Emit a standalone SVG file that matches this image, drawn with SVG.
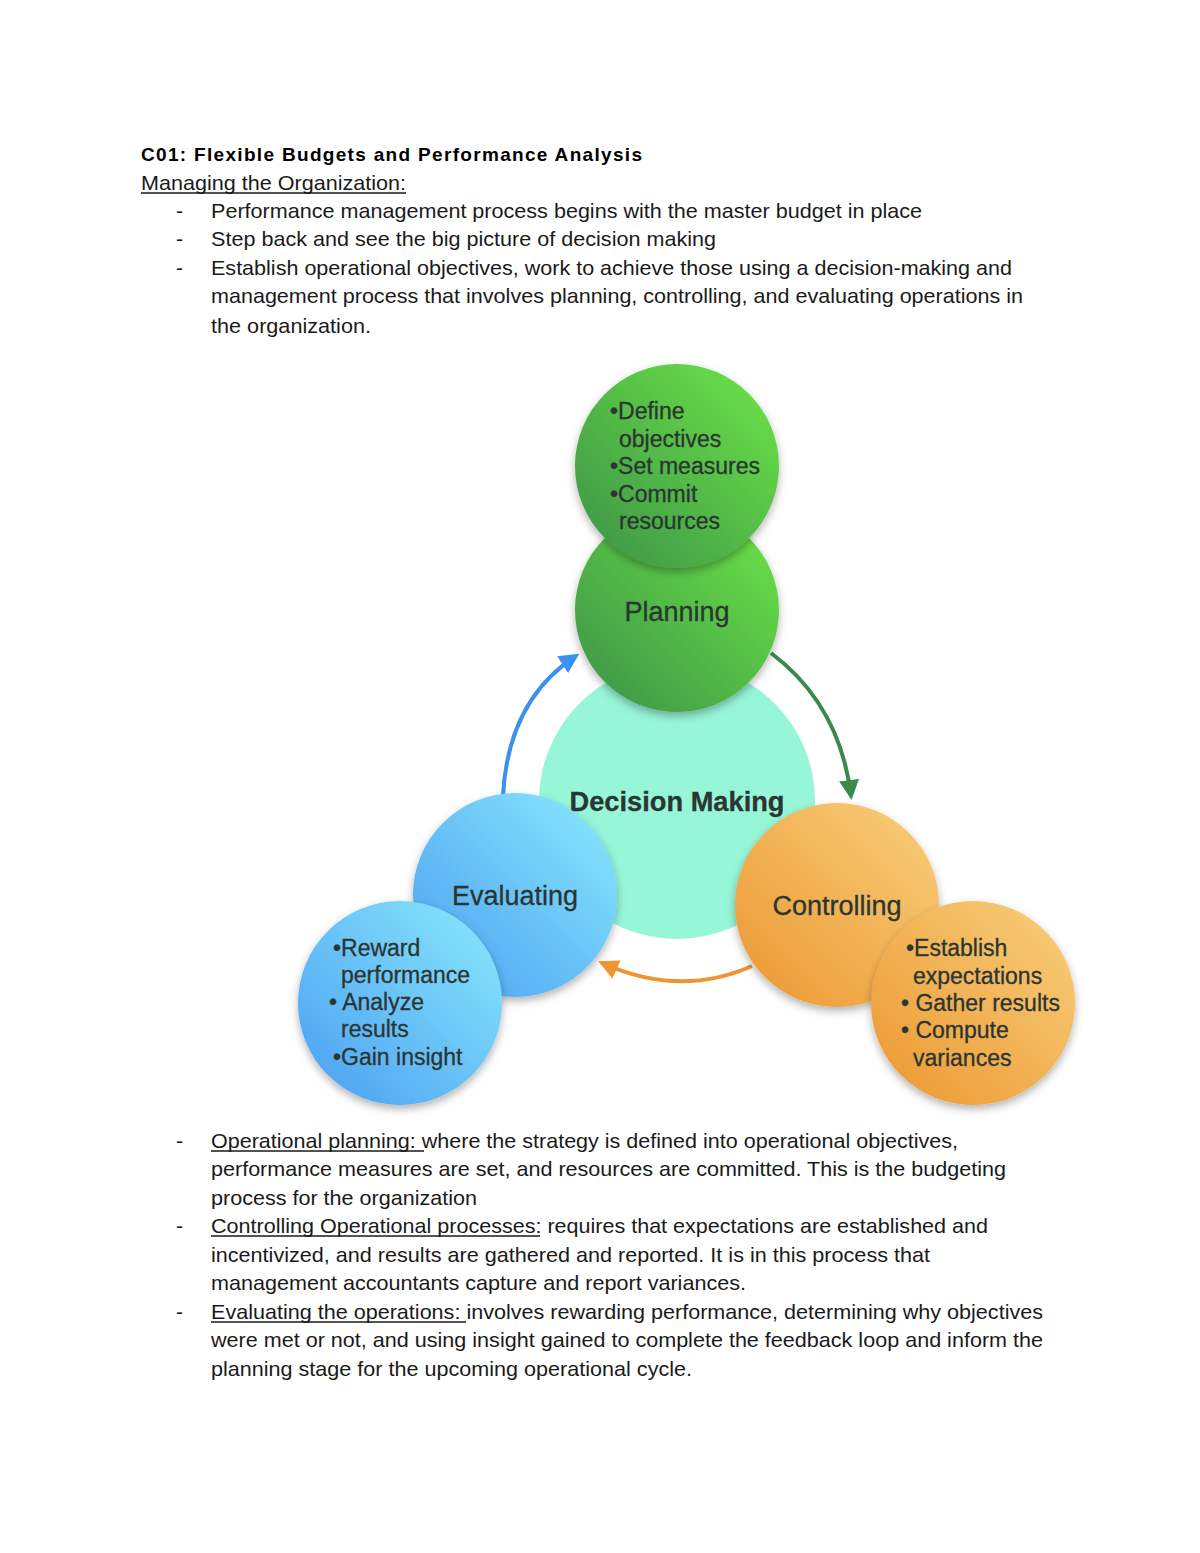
<svg xmlns="http://www.w3.org/2000/svg" width="1200" height="1553" viewBox="0 0 1200 1553">
<defs>
<style>
.body{font-family:"Liberation Sans",Arial,sans-serif;font-size:21px;fill:#1a1a1a}
.title{font-family:"Liberation Sans",Arial,sans-serif;font-size:19px;font-weight:bold;fill:#000}
.lbl{font-family:"Liberation Sans",Arial,sans-serif;font-size:27px;fill:#2b3532;stroke:#2b3532;stroke-width:0.3}
.blt{font-family:"Liberation Sans",Arial,sans-serif;font-size:23px;fill:#2b3532;stroke:#2b3532;stroke-width:0.3}
.ul{stroke:#1a1a1a;stroke-width:1.3}
</style>
<linearGradient id="gGreen" x1="0" y1="1" x2="1" y2="0">
<stop offset="0" stop-color="#3a9146"/><stop offset="1" stop-color="#6ee648"/>
</linearGradient>
<linearGradient id="gBlue" x1="0" y1="1" x2="1" y2="0">
<stop offset="0" stop-color="#4a9df2"/><stop offset="1" stop-color="#8aeafb"/>
</linearGradient>
<linearGradient id="gOrange" x1="0" y1="1" x2="1" y2="0">
<stop offset="0" stop-color="#ec9630"/><stop offset="1" stop-color="#f8d07c"/>
</linearGradient>
<filter id="sh" x="-20%" y="-20%" width="140%" height="145%">
<feDropShadow dx="0" dy="4" stdDeviation="4" flood-color="#000" flood-opacity="0.3"/>
</filter>
<marker id="mBlue" viewBox="0 0 10 10" refX="8" refY="5" markerWidth="5" markerHeight="5" orient="auto" markerUnits="strokeWidth"><path d="M0,0 L10,5 L0,10 Z" fill="#3d8ff0"/></marker>
<marker id="mGreen" viewBox="0 0 10 10" refX="8" refY="5" markerWidth="5" markerHeight="5" orient="auto" markerUnits="strokeWidth"><path d="M0,0 L10,5 L0,10 Z" fill="#3a8a4e"/></marker>
<marker id="mOrange" viewBox="0 0 10 10" refX="8" refY="5" markerWidth="5" markerHeight="5" orient="auto" markerUnits="strokeWidth"><path d="M0,0 L10,5 L0,10 Z" fill="#ef9430"/></marker>
</defs>
<rect width="1200" height="1553" fill="#fff"/>

<g id="header">
<text class="title" x="141" y="161" textLength="501" lengthAdjust="spacing">C01: Flexible Budgets and Performance Analysis</text>
<text class="body" x="141" y="190" textLength="265" lengthAdjust="spacingAndGlyphs">Managing the Organization:</text>
<line class="ul" x1="141" y1="193" x2="406" y2="193"/>
<text class="body" x="176" y="218">-</text>
<text class="body" x="211" y="218" textLength="711" lengthAdjust="spacingAndGlyphs">Performance management process begins with the master budget in place</text>
<text class="body" x="176" y="246">-</text>
<text class="body" x="211" y="246" textLength="505" lengthAdjust="spacingAndGlyphs">Step back and see the big picture of decision making</text>
<text class="body" x="176" y="275">-</text>
<text class="body" x="211" y="275" textLength="801" lengthAdjust="spacingAndGlyphs">Establish operational objectives, work to achieve those using a decision-making and</text>
<text class="body" x="211" y="303" textLength="812" lengthAdjust="spacingAndGlyphs">management process that involves planning, controlling, and evaluating operations in</text>
<text class="body" x="211" y="333" textLength="160" lengthAdjust="spacingAndGlyphs">the organization.</text>
</g>

<g id="connectors" fill="none" stroke-width="4">
<path d="M503,796 Q508,700 576,656" stroke="#3d8ff0" marker-end="url(#mBlue)"/>
<path d="M771,653 Q840,705 851,796" stroke="#3a8a4e" marker-end="url(#mGreen)"/>
<path d="M752,966 Q680,998 602,963" stroke="#ef9430" marker-end="url(#mOrange)"/>
</g>

<g id="decision-making">
<circle cx="677" cy="801" r="138" fill="#97f6d8"/>
<text class="lbl" x="677" y="811" text-anchor="middle" font-weight="bold" textLength="215" lengthAdjust="spacingAndGlyphs">Decision Making</text>
</g>

<g id="planning">
<circle cx="677" cy="610" r="102" fill="url(#gGreen)" filter="url(#sh)"/>
<text class="lbl" x="677" y="621" text-anchor="middle">Planning</text>
</g>

<g id="planning-details">
<circle cx="677" cy="466" r="102" fill="url(#gGreen)" filter="url(#sh)"/>
<text class="blt" x="610" y="419">•Define</text>
<text class="blt" x="619" y="447">objectives</text>
<text class="blt" x="610" y="474">•Set measures</text>
<text class="blt" x="610" y="502">•Commit</text>
<text class="blt" x="619" y="529">resources</text>
</g>

<g id="evaluating">
<circle cx="515" cy="895" r="102" fill="url(#gBlue)" filter="url(#sh)"/>
<text class="lbl" x="515" y="905" text-anchor="middle">Evaluating</text>
</g>

<g id="evaluating-details">
<circle cx="400" cy="1003" r="102" fill="url(#gBlue)" filter="url(#sh)"/>
<text class="blt" x="333" y="956">•Reward</text>
<text class="blt" x="341" y="983">performance</text>
<text class="blt" x="329" y="1010">• Analyze</text>
<text class="blt" x="341" y="1037">results</text>
<text class="blt" x="333" y="1065">•Gain insight</text>
</g>

<g id="controlling">
<circle cx="837" cy="905" r="102" fill="url(#gOrange)" filter="url(#sh)"/>
<text class="lbl" x="837" y="915" text-anchor="middle">Controlling</text>
</g>

<g id="controlling-details">
<circle cx="973" cy="1003" r="102" fill="url(#gOrange)" filter="url(#sh)"/>
<text class="blt" x="906" y="956">•Establish</text>
<text class="blt" x="913" y="984">expectations</text>
<text class="blt" x="901" y="1011">• Gather results</text>
<text class="blt" x="901" y="1038">• Compute</text>
<text class="blt" x="913" y="1066">variances</text>
</g>

<g id="footer">
<text class="body" x="176" y="1148">-</text>
<text class="body" x="211" y="1148" textLength="747" lengthAdjust="spacingAndGlyphs">Operational planning: where the strategy is defined into operational objectives,</text>
<line class="ul" x1="211" y1="1151" x2="424" y2="1151"/>
<text class="body" x="211" y="1176" textLength="795" lengthAdjust="spacingAndGlyphs">performance measures are set, and resources are committed. This is the budgeting</text>
<text class="body" x="211" y="1205" textLength="266" lengthAdjust="spacingAndGlyphs">process for the organization</text>
<text class="body" x="176" y="1233">-</text>
<text class="body" x="211" y="1233" textLength="777" lengthAdjust="spacingAndGlyphs">Controlling Operational processes: requires that expectations are established and</text>
<line class="ul" x1="211" y1="1236" x2="540" y2="1236"/>
<text class="body" x="211" y="1262" textLength="719" lengthAdjust="spacingAndGlyphs">incentivized, and results are gathered and reported. It is in this process that</text>
<text class="body" x="211" y="1290" textLength="535" lengthAdjust="spacingAndGlyphs">management accountants capture and report variances.</text>
<text class="body" x="176" y="1319">-</text>
<text class="body" x="211" y="1319" textLength="832" lengthAdjust="spacingAndGlyphs">Evaluating the operations: involves rewarding performance, determining why objectives</text>
<line class="ul" x1="211" y1="1322" x2="466" y2="1322"/>
<text class="body" x="211" y="1347" textLength="832" lengthAdjust="spacingAndGlyphs">were met or not, and using insight gained to complete the feedback loop and inform the</text>
<text class="body" x="211" y="1376" textLength="481" lengthAdjust="spacingAndGlyphs">planning stage for the upcoming operational cycle.</text>
</g>
</svg>
